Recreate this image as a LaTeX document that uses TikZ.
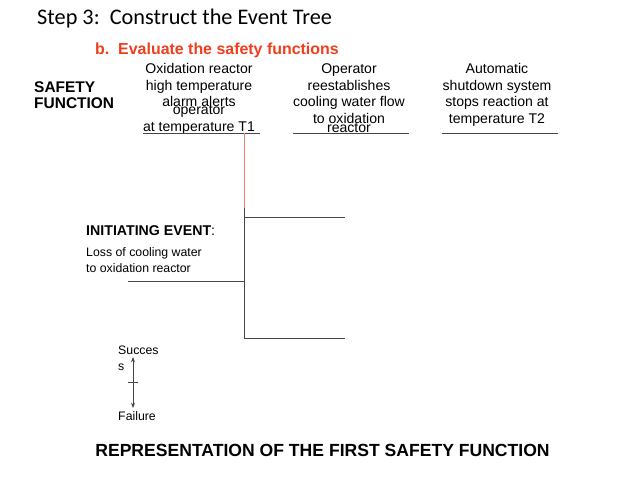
\documentclass[tikz,border=0pt]{standalone}
\usepackage{fontspec}
\setmainfont{Liberation Sans}
\newfontfamily\calibrifont{Carlito}
\usepackage{xcolor}
\usepackage{tikz}
\usetikzlibrary{arrows.meta,positioning,calc}

\definecolor{headred}{RGB}{240,62,28}
\definecolor{linered}{RGB}{236,128,108}
\definecolor{treegray}{RGB}{70,70,70}

\begin{document}
\begin{tikzpicture}[x=0.03cm, y=-0.03cm,
    coltext/.style={anchor=base, align=center, inner sep=0pt,
      font=\fontsize{12}{14.2}\selectfont},
    label/.style={anchor=base west, inner sep=0pt, align=left,
      font=\fontsize{10.5}{13.5}\selectfont},
    heading/.style={anchor=base west, inner sep=0pt, align=left,
      font=\fontsize{13.2}{13.3}\selectfont\bfseries},
    rule/.style={treegray, line width=0.6pt},
    arr/.style={{Stealth[length=1.6mm,width=1.2mm]}-{Stealth[length=1.6mm,width=1.2mm]}, treegray, line width=0.6pt},
  ]
    \useasboundingbox (0,0) rectangle (638,478);

    % Titles (multi-line nodes sit on the baseline of their last line)
    \node[anchor=base west, inner sep=0pt, font=\calibrifont\fontsize{19}{20}\selectfont]
      (title) at (37,25) {Step 3:\ \ Construct the Event Tree};
    \node[anchor=base west, inner sep=0pt, text=headred,
      font=\fontsize{13.6}{14}\selectfont\bfseries]
      (sub) at (95,55) {b.\ \ Evaluate the safety functions};
    \node[heading] (sf) at (34,108.3) {SAFETY\\FUNCTION};

    % Safety function headings
    \node[coltext] (f1) at (199,106.7) {Oxidation reactor\\high temperature\\alarm alerts};
    \node[coltext] (f1b) at (199,115) {operator};
    \node[coltext] (f1c) at (199,131.5) {at temperature T1};
    \node[coltext] (f2) at (349,123.3) {Operator\\reestablishes\\cooling water flow\\to oxidation};
    \node[coltext] (f2b) at (349,132) {reactor};
    \node[coltext] (f3) at (497,123.3) {Automatic\\shutdown system\\stops reaction at\\temperature T2};

    \coordinate (u1a) at (143,133);  \coordinate (u1b) at (260,133);
    \coordinate (u2a) at (293,133);  \coordinate (u2b) at (409,133);
    \coordinate (u3a) at (442,133);  \coordinate (u3b) at (558,133);
    \draw[rule] (u1a) -- (u1b);
    \draw[rule] (u2a) -- (u2b);
    \draw[rule] (u3a) -- (u3b);

    % Initiating event
    \node[anchor=base west, inner sep=0pt, font=\fontsize{12.1}{13}\selectfont]
      (ie) at (86,235) {\textbf{INITIATING EVENT}:};
    \node[label] (loss) at (86,272) {Loss of cooling water\\to oxidation reactor};

    % Tree
    \coordinate (top) at (244,133);
    \coordinate (split) at (244,208);
    \coordinate (bottom) at (244,338.3);
    \coordinate (start) at (128,281);
    \coordinate (mid) at (244,281);
    \coordinate (upend) at (345,217.3);
    \coordinate (upbeg) at (244,217.3);
    \coordinate (lowend) at (345,338.3);
    \draw[linered, line width=0.7pt] (top) -- (split);
    \draw[rule] (split) -- (bottom);
    \draw[rule] (start) -- (mid);
    \draw[rule] (upbeg) -- (upend);
    \draw[rule] (bottom) -- (lowend);

    % Legend
    \node[label] (succ) at (118,370) {Succes\\s};
    \node[label] (fail) at (118,420.5) {Failure};
    \coordinate (ltop) at (133,357);
    \coordinate (lbot) at (133,408);
    \coordinate (tl) at (128,382.7);
    \coordinate (tr) at (138,382.7);
    \draw[arr] (ltop) -- (lbot);
    \draw[rule, line width=0.4pt] (tl) -- (tr);

    % Caption
    \node[anchor=base, inner sep=0pt, font=\fontsize{15}{16}\selectfont\bfseries]
      (cap) at (322.5,456.7) {REPRESENTATION OF THE FIRST SAFETY FUNCTION};
  \end{tikzpicture}
\end{document}
